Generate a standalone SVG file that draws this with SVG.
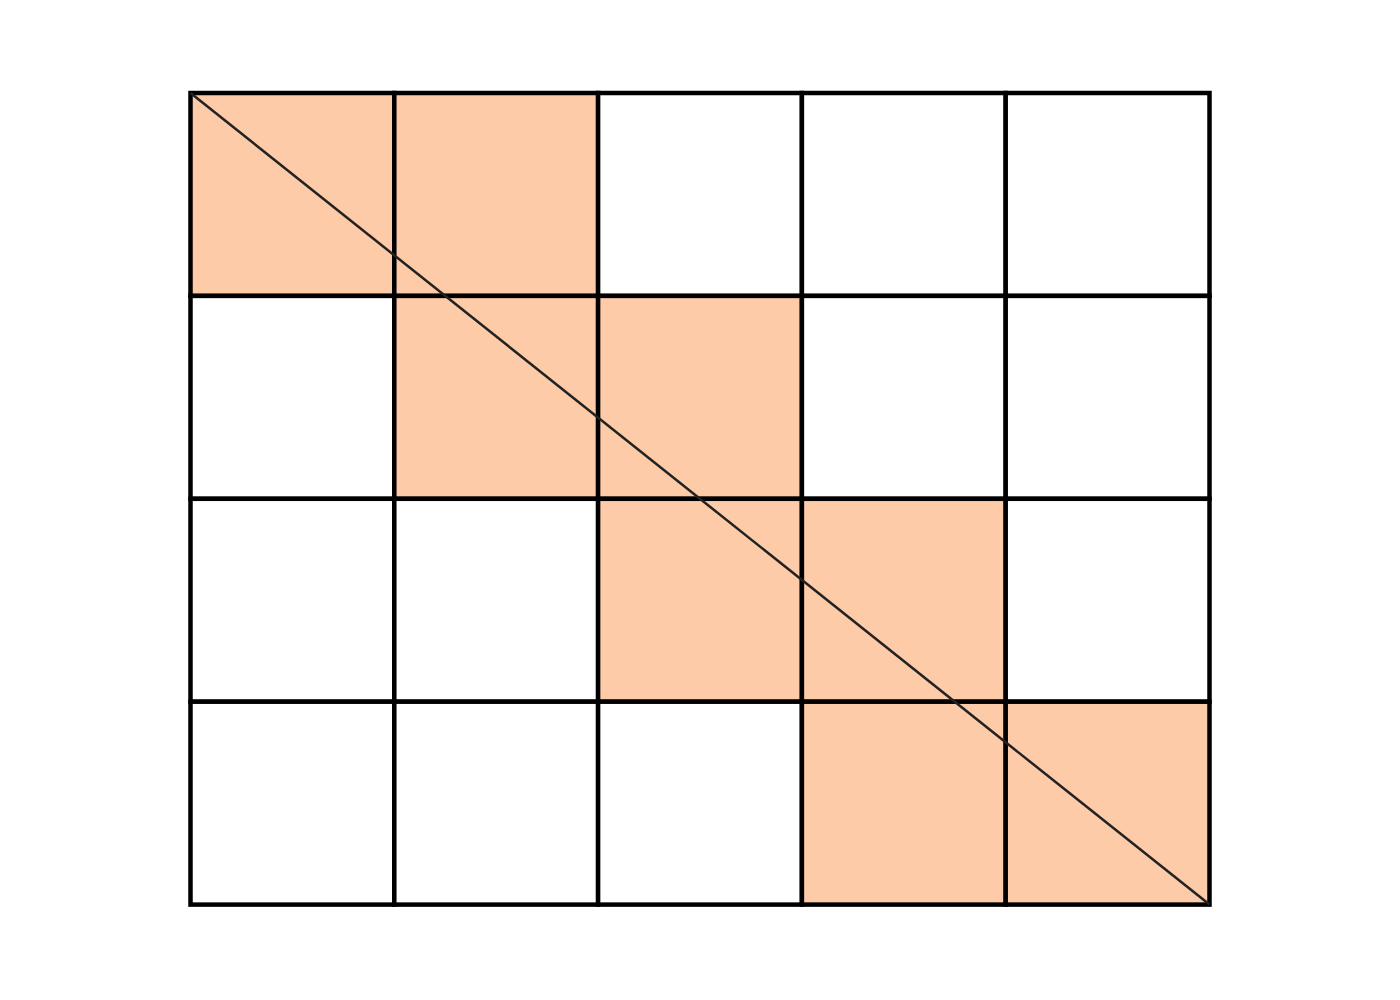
<svg xmlns="http://www.w3.org/2000/svg" width="1400" height="1000" viewBox="0 0 1400 1000">
<style>
.c{stroke:#000;stroke-width:4.5;fill:#fff}
.f{fill:#fdcba8}
</style>
<rect width="1400" height="1000" fill="#fff"/>
<g id="cells">
<rect class="c f" x="190.5" y="93" width="203.8" height="202.9"/>
<rect class="c f" x="394.3" y="93" width="203.8" height="202.9"/>
<rect class="c" x="598.1" y="93" width="203.8" height="202.9"/>
<rect class="c" x="801.9" y="93" width="203.8" height="202.9"/>
<rect class="c" x="1005.7" y="93" width="203.8" height="202.9"/>
<rect class="c" x="190.5" y="295.9" width="203.8" height="202.9"/>
<rect class="c f" x="394.3" y="295.9" width="203.8" height="202.9"/>
<rect class="c f" x="598.1" y="295.9" width="203.8" height="202.9"/>
<rect class="c" x="801.9" y="295.9" width="203.8" height="202.9"/>
<rect class="c" x="1005.7" y="295.9" width="203.8" height="202.9"/>
<rect class="c" x="190.5" y="498.8" width="203.8" height="202.9"/>
<rect class="c" x="394.3" y="498.8" width="203.8" height="202.9"/>
<rect class="c f" x="598.1" y="498.8" width="203.8" height="202.9"/>
<rect class="c f" x="801.9" y="498.8" width="203.8" height="202.9"/>
<rect class="c" x="1005.7" y="498.8" width="203.8" height="202.9"/>
<rect class="c" x="190.5" y="701.7" width="203.8" height="202.9"/>
<rect class="c" x="394.3" y="701.7" width="203.8" height="202.9"/>
<rect class="c" x="598.1" y="701.7" width="203.8" height="202.9"/>
<rect class="c f" x="801.9" y="701.7" width="203.8" height="202.9"/>
<rect class="c f" x="1005.7" y="701.7" width="203.8" height="202.9"/>
</g>
<g id="connectors">
<line x1="190.5" y1="93" x2="1209.5" y2="904.6" stroke="#222" stroke-width="2.5"/>
</g>
</svg>
